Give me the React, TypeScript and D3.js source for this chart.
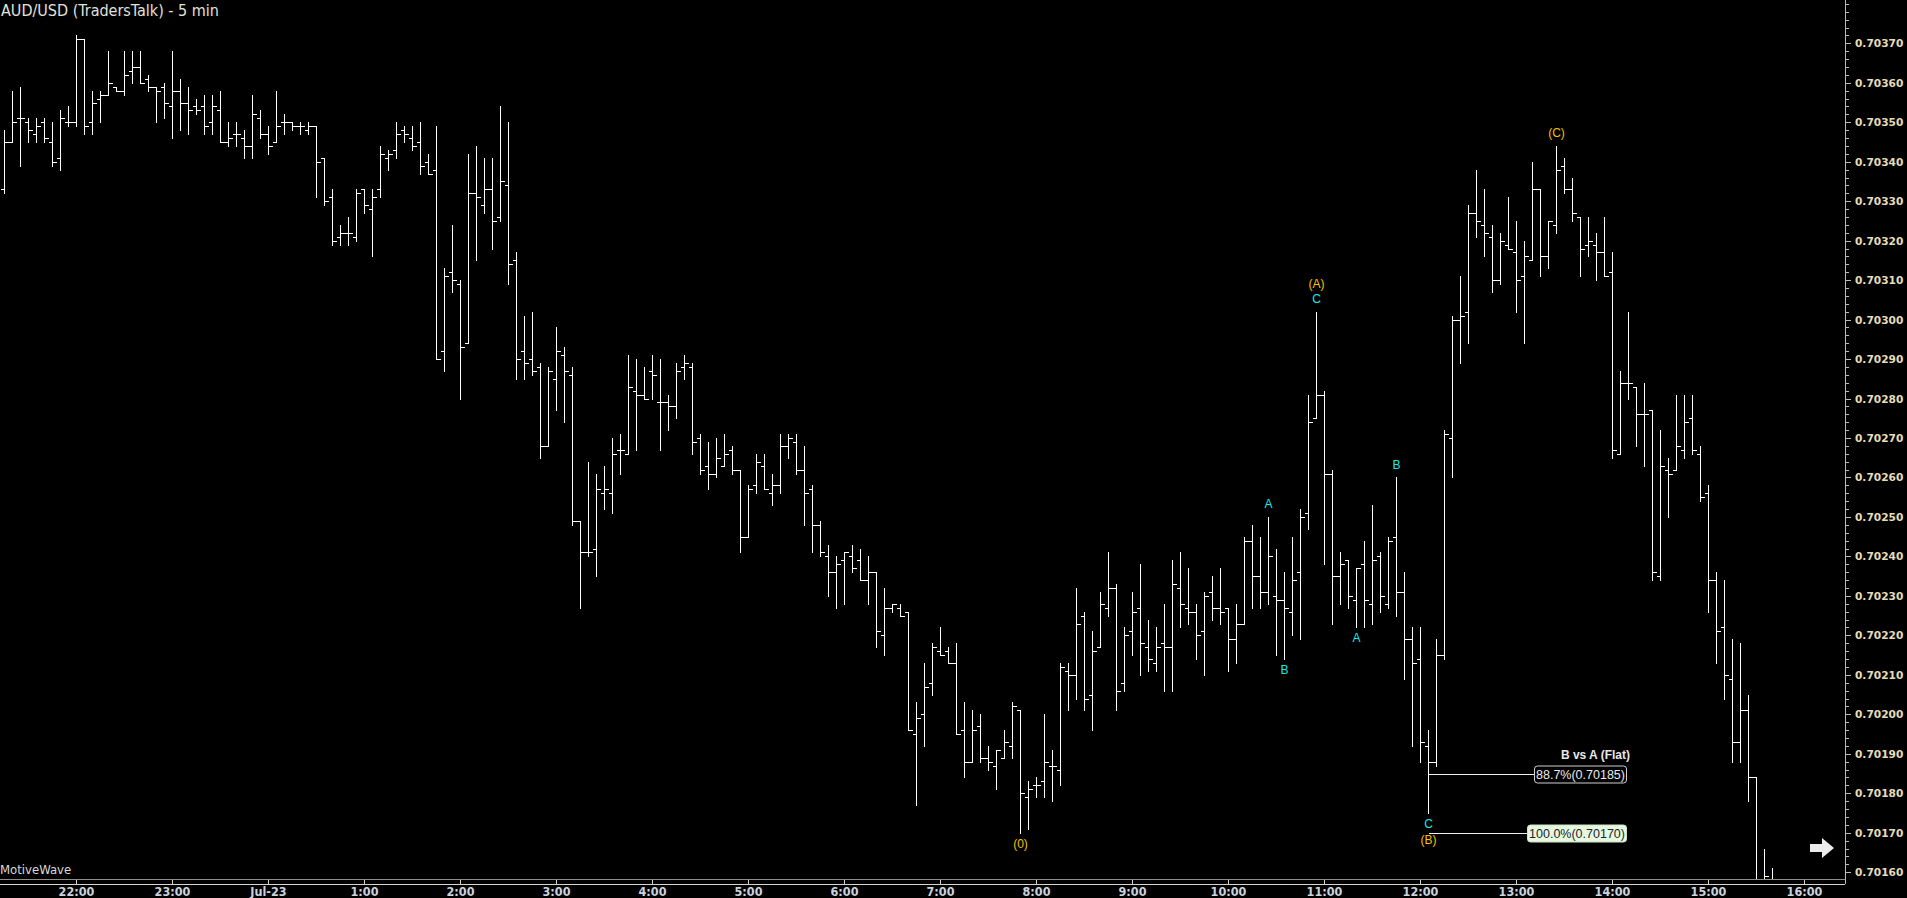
import React from 'react';
import * as d3 from 'd3';

const W = 1907;
const H = 898;

// first bar 21:15 (Jul-22), 5 minute bars
const BAR_START = Date.UTC(2023, 6, 22, 21, 15);
const BAR_MS = 5 * 60 * 1000;

const opens = [
  0.70333,0.70345,0.70351,0.70350,0.70347,0.70350,0.70345,0.70341,0.70350,0.70350,
  0.70371,0.70350,0.70356,0.70357,0.70359,0.70358,0.70363,0.70364,0.70361,0.70359,
  0.70359,0.70354,0.70358,0.70355,0.70354,0.70354,0.70350,0.70353,0.70345,0.70347,
  0.70346,0.70344,0.70351,0.70347,0.70345,0.70350,0.70350,0.70349,0.70348,0.70349,
  0.70341,0.70331,0.70321,0.70322,0.70321,0.70333,0.70328,0.70333,0.70341,0.70343,
  0.70348,0.70346,0.70345,0.70340,0.70338,0.70292,0.70312,0.70309,0.70294,0.70332,
  0.70329,0.70333,0.70326,0.70334,0.70315,0.70292,0.70290,0.70288,0.70268,0.70285,
  0.70291,0.70286,0.70249,0.70241,0.70242,
  0.70256,0.70256,0.70267,0.70266,0.70282,0.70281,0.70287,0.70279,0.70279,0.70278,
  0.70288,0.70288,0.70270,0.70263,0.70261,0.70263,0.70267,0.70262,0.70245,0.70258,
  0.70263,0.70256,0.70258,0.70268,0.70269,0.70262,0.70257,0.70248,0.70240,0.70236,
  0.70239,0.70240,0.70239,0.70234,0.70236,0.70220,0.70227,
  0.70227,0.70226,0.70195,0.70200,0.70208,0.70216,0.70216,0.70213,0.70196,0.70188,
  0.70197,0.70189,0.70187,0.70189,0.70192,0.70201,0.70179,0.70182,0.70183,0.70187,
  0.70186,0.70211,0.70210,0.70225,0.70205,0.70217,0.70227,0.70232,0.70208,0.70221,
  0.70227,0.70217,0.70213,0.70218,0.70217,0.70232,0.70227,0.70226,
  0.70221,0.70231,0.70227,0.70227,0.70219,0.70223,0.70244,0.70235,0.70231,0.70230,
  0.70229,0.70226,0.70236,0.70251,0.70275,0.70281,0.70261,0.70235,0.70239,0.70229,
  0.70238,0.70228,0.70240,0.70228,0.70245,0.70231,0.70219,0.70214,0.70192,0.70188,
  0.70215,0.70270,0.70300,0.70302,0.70327,0.70324,0.70321,
  0.70310,0.70319,0.70317,0.70311,0.70315,0.70333,0.70316,0.70324,0.70339,0.70333,
  0.70326,0.70319,0.70319,0.70317,0.70312,0.70266,0.70284,0.70283,0.70276,0.70277,
  0.70235,0.70262,0.70262,0.70267,0.70275,0.70266,0.70256,0.70234,0.70222,0.70209,
  0.70193,0.70201,0.70184,0.70155,0.70156,
];

const highs = [
  0.70348,0.70358,0.70359,0.70351,0.70351,0.70351,0.70350,0.70353,0.70354,0.70372,
  0.70371,0.70358,0.70358,0.70368,0.70359,0.70368,0.70368,0.70368,0.70362,0.70359,
  0.70360,0.70368,0.70361,0.70359,0.70356,0.70357,0.70357,0.70358,0.70350,0.70350,
  0.70348,0.70357,0.70353,0.70349,0.70358,0.70352,0.70350,0.70350,0.70350,0.70349,
  0.70341,0.70333,0.70324,0.70326,0.70333,0.70333,0.70333,0.70344,0.70343,0.70350,
  0.70349,0.70349,0.70350,0.70342,0.70349,0.70313,0.70324,0.70310,0.70342,0.70344,
  0.70341,0.70341,0.70354,0.70350,0.70317,0.70301,0.70302,0.70289,0.70288,0.70298,
  0.70293,0.70288,0.70249,0.70264,0.70261,
  0.70263,0.70270,0.70271,0.70291,0.70290,0.70288,0.70291,0.70290,0.70281,0.70289,
  0.70291,0.70289,0.70271,0.70269,0.70270,0.70271,0.70268,0.70262,0.70258,0.70266,
  0.70266,0.70261,0.70271,0.70271,0.70271,0.70268,0.70258,0.70249,0.70243,0.70240,
  0.70241,0.70243,0.70242,0.70240,0.70236,0.70232,0.70228,
  0.70228,0.70226,0.70203,0.70213,0.70218,0.70222,0.70217,0.70218,0.70203,0.70201,
  0.70200,0.70192,0.70191,0.70196,0.70203,0.70201,0.70183,0.70184,0.70200,0.70191,
  0.70213,0.70213,0.70232,0.70226,0.70221,0.70231,0.70241,0.70233,0.70222,0.70231,
  0.70238,0.70224,0.70222,0.70228,0.70239,0.70241,0.70237,0.70228,
  0.70231,0.70235,0.70237,0.70227,0.70228,0.70245,0.70248,0.70245,0.70250,0.70242,
  0.70236,0.70245,0.70252,0.70281,0.70302,0.70282,0.70262,0.70241,0.70239,0.70237,
  0.70244,0.70253,0.70241,0.70245,0.70260,0.70236,0.70222,0.70222,0.70196,0.70219,
  0.70272,0.70301,0.70311,0.70329,0.70338,0.70333,0.70324,
  0.70322,0.70331,0.70325,0.70320,0.70340,0.70333,0.70325,0.70344,0.70341,0.70336,
  0.70326,0.70326,0.70322,0.70326,0.70317,0.70287,0.70302,0.70283,0.70284,0.70277,
  0.70272,0.70265,0.70281,0.70281,0.70281,0.70268,0.70258,0.70236,0.70234,0.70219,
  0.70218,0.70205,0.70184,0.70166,0.70161,
];

const lows = [
  0.70332,0.70345,0.70339,0.70345,0.70345,0.70345,0.70339,0.70338,0.70349,0.70349,
  0.70347,0.70347,0.70350,0.70357,0.70358,0.70357,0.70360,0.70360,0.70358,0.70350,
  0.70351,0.70346,0.70348,0.70347,0.70352,0.70347,0.70347,0.70345,0.70344,0.70344,
  0.70341,0.70341,0.70346,0.70342,0.70345,0.70347,0.70348,0.70347,0.70347,0.70331,
  0.70329,0.70319,0.70319,0.70319,0.70320,0.70327,0.70316,0.70331,0.70338,0.70341,
  0.70345,0.70343,0.70337,0.70337,0.70290,0.70287,0.70307,0.70280,0.70294,0.70315,
  0.70327,0.70318,0.70325,0.70309,0.70285,0.70285,0.70286,0.70265,0.70268,0.70277,
  0.70274,0.70248,0.70227,0.70240,0.70235,
  0.70252,0.70251,0.70261,0.70266,0.70267,0.70280,0.70280,0.70267,0.70272,0.70275,
  0.70285,0.70266,0.70261,0.70257,0.70260,0.70263,0.70261,0.70241,0.70245,0.70256,
  0.70257,0.70253,0.70256,0.70265,0.70261,0.70248,0.70241,0.70240,0.70230,0.70227,
  0.70228,0.70236,0.70234,0.70228,0.70217,0.70215,0.70226,
  0.70225,0.70196,0.70177,0.70192,0.70205,0.70215,0.70213,0.70195,0.70184,0.70188,
  0.70188,0.70186,0.70181,0.70189,0.70189,0.70170,0.70171,0.70179,0.70179,0.70178,
  0.70182,0.70201,0.70204,0.70201,0.70196,0.70217,0.70225,0.70201,0.70206,0.70215,
  0.70210,0.70211,0.70211,0.70206,0.70206,0.70222,0.70223,0.70214,
  0.70210,0.70224,0.70223,0.70211,0.70213,0.70223,0.70227,0.70227,0.70228,0.70215,
  0.70214,0.70220,0.70219,0.70247,0.70275,0.70238,0.70223,0.70228,0.70227,0.70222,
  0.70222,0.70223,0.70226,0.70227,0.70225,0.70209,0.70192,0.70188,0.70175,0.70187,
  0.70214,0.70260,0.70289,0.70294,0.70321,0.70316,0.70307,
  0.70309,0.70318,0.70302,0.70294,0.70315,0.70311,0.70313,0.70322,0.70332,0.70325,
  0.70311,0.70316,0.70310,0.70311,0.70265,0.70266,0.70280,0.70268,0.70263,0.70234,
  0.70234,0.70250,0.70262,0.70265,0.70266,0.70254,0.70226,0.70213,0.70204,0.70188,
  0.70188,0.70178,0.70150,0.70150,0.70150,
];

const closes = [
  0.70345,0.70350,0.70351,0.70348,0.70349,0.70346,0.70340,0.70351,0.70350,0.70371,
  0.70349,0.70355,0.70357,0.70360,0.70358,0.70362,0.70364,0.70360,0.70359,0.70358,
  0.70355,0.70358,0.70355,0.70353,0.70353,0.70349,0.70354,0.70345,0.70346,0.70347,
  0.70344,0.70352,0.70347,0.70344,0.70349,0.70350,0.70349,0.70349,0.70349,0.70340,
  0.70330,0.70320,0.70322,0.70322,0.70332,0.70329,0.70331,0.70342,0.70342,0.70347,
  0.70347,0.70344,0.70339,0.70337,0.70290,0.70311,0.70310,0.70293,0.70332,0.70331,
  0.70333,0.70325,0.70335,0.70314,0.70290,0.70289,0.70287,0.70268,0.70287,0.70292,
  0.70287,0.70249,0.70241,0.70241,0.70257,
  0.70257,0.70266,0.70267,0.70283,0.70281,0.70280,0.70286,0.70279,0.70278,0.70287,
  0.70289,0.70269,0.70262,0.70261,0.70265,0.70266,0.70262,0.70245,0.70257,0.70264,
  0.70257,0.70258,0.70268,0.70270,0.70262,0.70256,0.70248,0.70241,0.70236,0.70238,
  0.70241,0.70237,0.70234,0.70236,0.70221,0.70227,0.70228,
  0.70225,0.70196,0.70199,0.70207,0.70217,0.70215,0.70213,0.70195,0.70188,0.70196,
  0.70189,0.70188,0.70191,0.70193,0.70202,0.70180,0.70181,0.70182,0.70188,0.70187,
  0.70212,0.70210,0.70223,0.70204,0.70216,0.70228,0.70232,0.70206,0.70220,0.70226,
  0.70218,0.70214,0.70217,0.70217,0.70233,0.70228,0.70226,0.70220,
  0.70230,0.70227,0.70226,0.70219,0.70223,0.70244,0.70235,0.70231,0.70240,0.70229,
  0.70227,0.70234,0.70250,0.70274,0.70281,0.70261,0.70235,0.70238,0.70230,0.70237,
  0.70229,0.70239,0.70230,0.70244,0.70231,0.70219,0.70213,0.70193,0.70188,0.70215,
  0.70271,0.70300,0.70301,0.70327,0.70325,0.70322,0.70310,
  0.70320,0.70318,0.70310,0.70316,0.70333,0.70316,0.70325,0.70338,0.70333,0.70327,
  0.70318,0.70320,0.70317,0.70311,0.70267,0.70284,0.70284,0.70276,0.70276,0.70236,
  0.70263,0.70261,0.70268,0.70274,0.70267,0.70255,0.70234,0.70221,0.70210,0.70193,
  0.70201,0.70184,0.70156,0.70159,0.70157,
];

const priceTicks = [
  0.70160,0.70170,0.70180,0.70190,0.70200,0.70210,0.70220,0.70230,0.70240,0.70250,0.70260,
  0.70270,0.70280,0.70290,0.70300,0.70310,0.70320,0.70330,0.70340,0.70350,0.70360,0.70370,
];

const timeLabels = [
  '22:00','23:00','Jul-23','1:00','2:00','3:00','4:00','5:00','6:00','7:00',
  '8:00','9:00','10:00','11:00','12:00','13:00','14:00','15:00','16:00',
];
const FIRST_HOUR = Date.UTC(2023, 6, 22, 22, 0);

// Elliott wave labels: bar index, anchored at the bar's high or low, stack level
const waveLabels = [
  { text: '(0)', bar: 127, at: 'low', level: 0, kind: 'major' },
  { text: 'A', bar: 158, at: 'high', level: 0, kind: 'minor' },
  { text: 'B', bar: 160, at: 'low', level: 0, kind: 'minor' },
  { text: 'C', bar: 164, at: 'high', level: 0, kind: 'minor' },
  { text: '(A)', bar: 164, at: 'high', level: 1, kind: 'major' },
  { text: 'A', bar: 169, at: 'low', level: 0, kind: 'minor' },
  { text: 'B', bar: 174, at: 'high', level: 0, kind: 'minor' },
  { text: 'C', bar: 178, at: 'low', level: 0, kind: 'minor' },
  { text: '(B)', bar: 178, at: 'low', level: 1, kind: 'major' },
  { text: '(C)', bar: 194, at: 'high', level: 0, kind: 'major' },
];

const fibBar = 178;
const fibTitle = 'B vs A (Flat)';
const fibLevels = [
  { pct: '88.7%', price: 0.70185, style: 'dark' },
  { pct: '100.0%', price: 0.70170, style: 'light' },
];

const NARROW = "'Liberation Sans Narrow','Arial Narrow','DejaVu Sans Condensed','Liberation Sans',sans-serif";
const SANS = "'Liberation Sans',Arial,sans-serif";

export default function App() {
  const plotRight = 1845;
  const plotBottom = 879;

  const x = d3
    .scaleUtc()
    .domain([new Date(BAR_START), new Date(BAR_START + (opens.length - 1) * BAR_MS)])
    .range([4, 4 + 8 * (opens.length - 1)]);
  const y = d3.scaleLinear().domain([0.7016, 0.7037]).range([872.2, 43.3]);

  const px = (v: number) => Math.round(v) + 0.5;
  const py = (v: number) => Math.round(y(v));

  const barPath = opens
    .map((o, i) => {
      const xx = px(x(new Date(BAR_START + i * BAR_MS)));
      const yh = py(highs[i]);
      const yl = py(lows[i]);
      const yo = py(o) + 0.5;
      const yc = py(closes[i]) + 0.5;
      return `M${xx},${yh}V${yl + 1}M${xx - 4},${yo}H${xx}M${xx},${yc}H${xx + 4}`;
    })
    .join('');

  const fmt = d3.format('.5f');

  // minor ticks every 0.00002 on the price axis
  const minorTicks = d3.range(0.7015, 0.70392, 0.00002).filter((v) => {
    const yy = y(v);
    return yy >= 0 && yy <= plotBottom;
  });

  const hourTimes = timeLabels.map((_, i) => new Date(FIRST_HOUR + i * 3600 * 1000));

  const barX = (i: number) => x(new Date(BAR_START + i * BAR_MS));

  const fibX = px(barX(fibBar));

  return (
    <svg
      width={W}
      height={H}
      style={{ position: 'absolute', left: 0, top: 0, display: 'block', background: '#000' }}
    >
      <defs>
        <clipPath id="plotClip">
          <rect x={0} y={0} width={plotRight} height={plotBottom} />
        </clipPath>
      </defs>
      <rect x={0} y={0} width={W} height={H} fill="#000" />

      {/* bars */}
      <g clipPath="url(#plotClip)">
        <path d={barPath} stroke="#ffffff" strokeWidth={1} fill="none" shapeRendering="crispEdges" />
      </g>

      {/* title */}
      <text x={1} y={15.5} fontFamily={NARROW} fontSize={16} fill="#e2e0da">
        AUD/USD (TradersTalk) - 5 min
      </text>

      <text x={0} y={874} fontFamily={NARROW} fontSize={13} fill="#d8d8d8">
        MotiveWave
      </text>

      {/* wave labels */}
      {waveLabels.map((w, i) => {
        const xx = barX(w.bar);
        const yy =
          w.at === 'high'
            ? y(highs[w.bar]) - 13 - w.level * 15
            : y(lows[w.bar]) + 10.5 + w.level * 16;
        return (
          <text
            key={i}
            x={xx + 0.5}
            y={yy + 4.3}
            textAnchor="middle"
            fontFamily={SANS}
            fontSize={12}
            fill={w.kind === 'major' ? '#f4c200' : '#1ee6e6'}
          >
            {w.text}
          </text>
        );
      })}

      {/* fib projection */}
      <text
        x={1630}
        y={759}
        textAnchor="end"
        fontFamily={SANS}
        fontWeight="bold"
        fontSize={12}
        fill="#e8e8e8"
      >
        {fibTitle}
      </text>
      {fibLevels.map((f, i) => {
        const yy = Math.round(y(f.price)) + 0.5;
        const light = f.style === 'light';
        const bx = light ? 1527.5 : 1534.5;
        const bw = light ? 99 : 92;
        return (
          <g key={i}>
            <line x1={fibX} x2={bx} y1={yy} y2={yy} stroke="#f0f0f0" strokeWidth={1} shapeRendering="crispEdges" />
            <rect
              x={bx}
              y={yy - 8.5}
              width={bw}
              height={17}
              rx={3}
              ry={3}
              fill={light ? '#e6f8de' : '#000'}
              stroke={light ? '#cfe3c4' : '#d0d0d0'}
              strokeWidth={1}
            />
            <text
              x={bx + bw / 2}
              y={yy + 4.3}
              textAnchor="middle"
              fontFamily={SANS}
              fontSize={12.5}
              fill={light ? '#1c2233' : '#eaeaea'}
            >
              {`${f.pct}(${fmt(f.price)})`}
            </text>
          </g>
        );
      })}

      {/* right arrow */}
      <path d="M1810,844H1822V838L1834,848L1822,858V852H1810Z" fill="#ececec" />

      {/* price axis */}
      <line x1={plotRight + 0.5} x2={plotRight + 0.5} y1={0} y2={plotBottom + 5} stroke="#bdbcae" strokeWidth={1} shapeRendering="crispEdges" />
      {minorTicks.map((v, i) => (
        <line
          key={'m' + i}
          x1={plotRight + 1}
          x2={plotRight + 3.5}
          y1={Math.round(y(v)) + 0.5}
          y2={Math.round(y(v)) + 0.5}
          stroke="#bdbcae"
          strokeWidth={1}
          shapeRendering="crispEdges"
        />
      ))}
      {priceTicks.map((v, i) => {
        const yy = Math.round(y(v)) + 0.5;
        return (
          <g key={'p' + i}>
            <line x1={plotRight + 1} x2={plotRight + 6} y1={yy} y2={yy} stroke="#bdbcae" strokeWidth={1} shapeRendering="crispEdges" />
            <text
              x={1855}
              y={yy + 3.8}
              fontFamily="'DejaVu Sans',sans-serif"
              fontWeight="bold"
              fontSize={10.6}
              fill="#e6ddb6"
            >
              {fmt(v)}
            </text>
          </g>
        );
      })}

      {/* time axis */}
      <line x1={0} x2={plotRight} y1={plotBottom + 0.5} y2={plotBottom + 0.5} stroke="#8e8d86" strokeWidth={1} shapeRendering="crispEdges" />
      <line x1={0} x2={plotRight} y1={plotBottom + 5.5} y2={plotBottom + 5.5} stroke="#d6d5c8" strokeWidth={1} shapeRendering="crispEdges" />
      {hourTimes.map((t, i) => {
        const xx = px(x(t));
        return (
          <g key={'t' + i}>
            <line x1={xx} x2={xx} y1={plotBottom + 1} y2={plotBottom + 5} stroke="#d6d5c8" strokeWidth={1} shapeRendering="crispEdges" />
            <text
              x={xx}
              y={895.5}
              textAnchor="middle"
              fontFamily={NARROW}
              fontWeight="bold"
              fontSize={12.5}
              fill="#c9d3dc"
            >
              {timeLabels[i]}
            </text>
          </g>
        );
      })}
    </svg>
  );
}
